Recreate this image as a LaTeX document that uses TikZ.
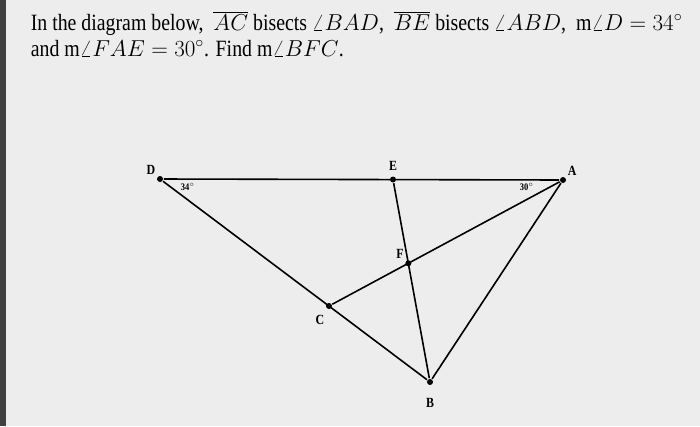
\documentclass[tikz,border=0pt]{standalone}
\usepackage{fontspec}
\setmainfont[FakeStretch=0.85]{Liberation Serif}
\usetikzlibrary{positioning}
\begin{document}
\begin{tikzpicture}[x=0.75pt,y=-0.75pt,line width=1.2pt,
            pt node/.style={circle,fill,inner sep=0pt,minimum size=4.5pt},
            lbl/.style={font=\fontsize{10.5}{12}\selectfont\bfseries,inner sep=1pt},
            ang/.style={font=\fontsize{7.5}{8}\selectfont\bfseries,inner sep=0pt}]

        % Background
        \fill[black!7] (0,0) rectangle (700,426);
        \fill[black!75] (0,0) rectangle (6,426);
        \useasboundingbox (0,0) rectangle (700,426);

        % Problem text
        \node[anchor=north west,align=left,inner sep=0pt,
              font=\fontsize{17.5}{19.5}\selectfont] (text) at (30,11)
            {In the diagram below, \ $\overline{AC}$ bisects $\angle BAD$, \ $\overline{BE}$ bisects $\angle ABD$, \ m$\angle D = 34^\circ$\\
             and m$\angle FAE = 30^\circ$. Find m$\angle BFC$.};

        % Define vertices
        \node[pt node] (D) at (160,179) {};
        \node[pt node] (A) at (563,180) {};
        \node[pt node] (E) at (393,179.5) {};
        \node[pt node] (B) at (430,382) {};
        \node[pt node] (C) at (329,306) {};
        \coordinate (F) at (intersection of A--C and B--E);
        \node[pt node] at (F) {};

        % Draw edges
        \draw (D) -- (A);
        \draw (D) -- (B);
        \draw (A) -- (B);
        \draw (A) -- (C);
        \draw (B) -- (E);

        % Labels
        \node[lbl,above left=0pt of D] {D};
        \node[lbl,above=2pt of E] {E};
        \node[lbl,above right=0pt of A] {A};
        \node[lbl,above left=2pt and 2pt of F] {F};
        \node[lbl,below left=3pt and 0pt of C] {C};
        \node[lbl,below=8pt of B] {B};
        \node[ang] at (188,187) {34$^\circ$};
        \node[ang] at (527,187) {30$^\circ$};

\end{tikzpicture}
\end{document}
